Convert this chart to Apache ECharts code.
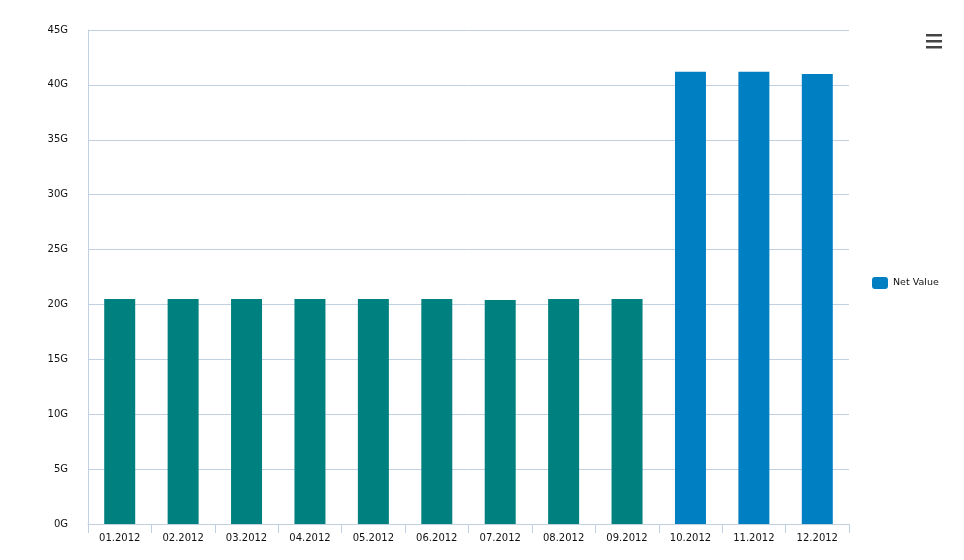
<!DOCTYPE html>
<html>
<head>
<meta charset="utf-8">
<script src="https://cdn.jsdelivr.net/npm/echarts@6/dist/echarts.min.js"></script>
<style>
html,body{margin:0;padding:0;background:#fff;}
#chart{width:964px;height:560px;}
</style>
</head>
<body>
<div id="chart"></div>
<script>
const categories = ['01.2012','02.2012','03.2012','04.2012','05.2012','06.2012','07.2012','08.2012','09.2012','10.2012','11.2012','12.2012'];
const netValues = [20.5,20.5,20.5,20.5,20.5,20.5,20.4,20.5,20.5,41.2,41.2,41.0];
const tealCount = 9;
const tealColor = '#00807f';
const blueColor = '#007fc2';
const yTicks = [0,5,10,15,20,25,30,35,40,45];

const chart = echarts.init(document.getElementById('chart'), null, {renderer:'canvas'});
const font = 'DejaVu Sans';
chart.setOption({
  animation:false,
  backgroundColor:'#ffffff',
  grid:{left:88,right:115,top:30,bottom:36,containLabel:false},
  legend:{
    data:['Net Value'],
    orient:'vertical',
    left:867, top:272,
    itemWidth:16, itemHeight:12, itemGap:5,
    icon:'roundRect',
    textStyle:{fontFamily:font,fontSize:9.5,color:'#111'}
  },
  xAxis:{
    type:'category',
    data:categories,
    boundaryGap:true,
    axisLine:{lineStyle:{color:'#c0d0e0',width:1}},
    axisTick:{show:true,length:9,lineStyle:{color:'#c0d0e0'}},
    axisLabel:{fontFamily:font,fontSize:10,color:'#111',margin:9,interval:0}
  },
  yAxis:{
    type:'value',
    min:yTicks[0], max:yTicks[yTicks.length-1], interval:5,
    axisLine:{show:true,lineStyle:{color:'#c0d0e0'}},
    axisTick:{show:false},
    splitLine:{lineStyle:{color:'#c0d0e0',width:1}},
    axisLabel:{fontFamily:font,fontSize:10,color:'#111',margin:20,formatter:v=>v+'G'}
  },
  series:[{
    name:'Net Value',
    type:'bar',
    barWidth:31,
    itemStyle:{color:blueColor},
    data:netValues.map((v,i)=> i<tealCount ? {value:v,itemStyle:{color:tealColor}} : v)
  }],
  graphic:[
    {type:'rect',shape:{x:926,y:34,width:16,height:2.5},style:{fill:'#444'}},
    {type:'rect',shape:{x:926,y:40,width:16,height:2.5},style:{fill:'#444'}},
    {type:'rect',shape:{x:926,y:46,width:16,height:2.5},style:{fill:'#444'}}
  ]
});
</script>
</body>
</html>
